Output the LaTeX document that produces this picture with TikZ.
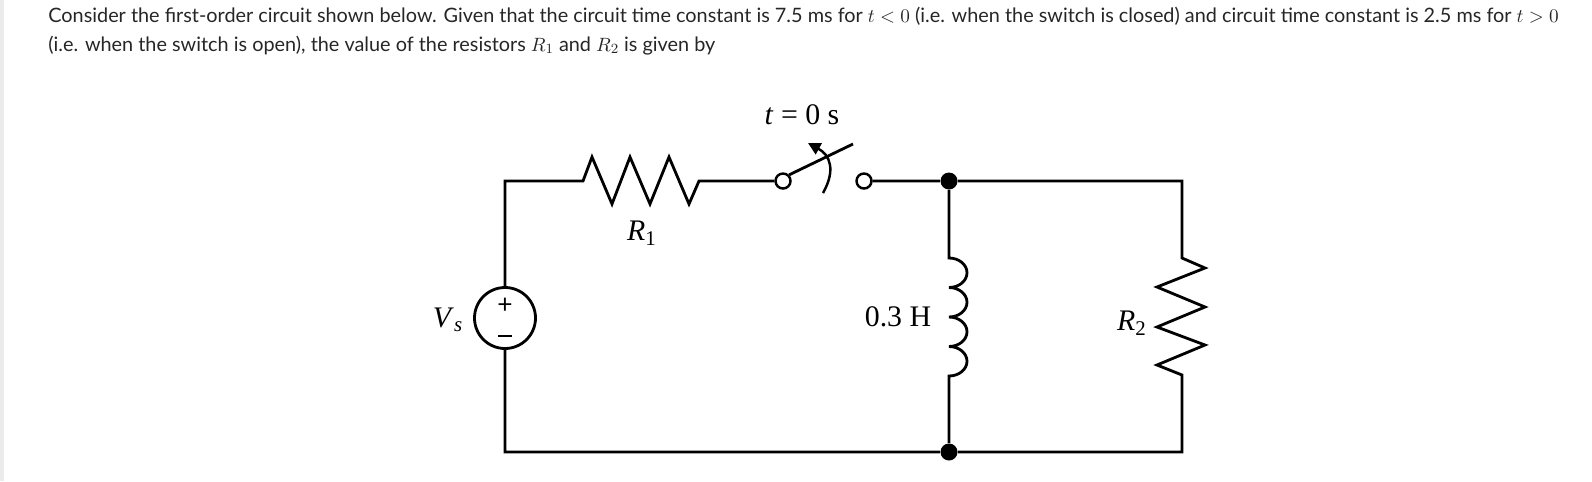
\documentclass[tikz,border=0pt]{standalone}
\usepackage{fontspec}
\setmainfont{Lato}
\newfontfamily\tnr{Liberation Serif}
\usetikzlibrary{arrows.meta}
\begin{document}
\begin{tikzpicture}[x=0.02cm,y=-0.02cm,
  wire/.style={line width=1.6pt,line join=miter},
  lbl/.style={font=\tnr\fontsize{17}{19}\selectfont,inner sep=0pt},
  txt/.style={anchor=base west,inner sep=0pt,font=\fontsize{11.3}{13}\selectfont,text=black!85}]
\fill[black!8] (0,0) rectangle (4,481);
\node[txt] (l1) at (48,22) {Consider the first-order circuit shown below. Given that the circuit time constant is 7.5 ms for $t<0$ (i.e. when the switch is closed) and circuit time constant is 2.5 ms for $t>0$};
\node[txt] (l2) at (48,51) {(i.e. when the switch is open), the value of the resistors $R_1$ and $R_2$ is given by};
% nodes
\coordinate (tl) at (505,181);
\coordinate (bl) at (505,452);
\node[circle,draw,line width=1.6pt,inner sep=0pt,minimum size=1.22cm] (vs) at (505,318) {};
\node[font=\fontsize{15}{15}\selectfont] at (505,306) {+};
\draw[line width=1.2pt] (498,336) -- (512,336);
\node[circle,draw,line width=1.4pt,fill=white,inner sep=0pt,minimum size=0.3cm] (s1) at (783,181) {};
\node[circle,draw,line width=1.4pt,fill=white,inner sep=0pt,minimum size=0.3cm] (s2) at (864,181) {};
\node[circle,fill,inner sep=0pt,minimum size=0.34cm] (nt) at (949,181) {};
\node[circle,fill,inner sep=0pt,minimum size=0.34cm] (nb) at (949,452) {};
\coordinate (tr) at (1182,181);
\coordinate (br) at (1182,452);
% wires
\draw[wire] (vs.north) -- (tl) -- (583,181) -- (592,157) -- (612,204) -- (630,157) -- (650,204) -- (669,157) -- (689,204) -- (699,181) -- (s1.west);
\draw[wire] (vs.south) -- (bl) -- (nb) -- (br) -- (1182,375) -- (1157,365) -- (1205,345) -- (1157,327) -- (1205,307) -- (1157,287) -- (1205,268) -- (1182,258) -- (tr) -- (nt) -- (s2.east);
\draw[wire] (s1.north east) -- (853,144);
\draw[line width=1.4pt,-{Triangle[length=7pt,width=7pt]}] (823,193) .. controls (836,170) and (830,155) .. (808,143);
\draw[wire] (nt) -- (949,258)
  arc[start angle=-90,end angle=90,x radius=18,y radius=14.75]
  arc[start angle=-90,end angle=90,x radius=18,y radius=14.75] arc[start angle=-90,end angle=90,x radius=18,y radius=14.75] arc[start angle=-90,end angle=90,x radius=18,y radius=14.75] -- (nb);
% labels
\node[lbl] at (802,115) {\textit{t} = 0 s};
\node[lbl] at (642,233) {\textit{R}\textsubscript{1}};
\node[lbl] at (448,320) {\textit{V}\textsubscript{\textit{s}}};
\node[lbl] at (898,317) {0.3 H};
\node[lbl] at (1132,323) {\textit{R}\textsubscript{2}};
\pgfresetboundingbox
\useasboundingbox (0,0) rectangle (1592,481);
\end{tikzpicture}
\end{document}
